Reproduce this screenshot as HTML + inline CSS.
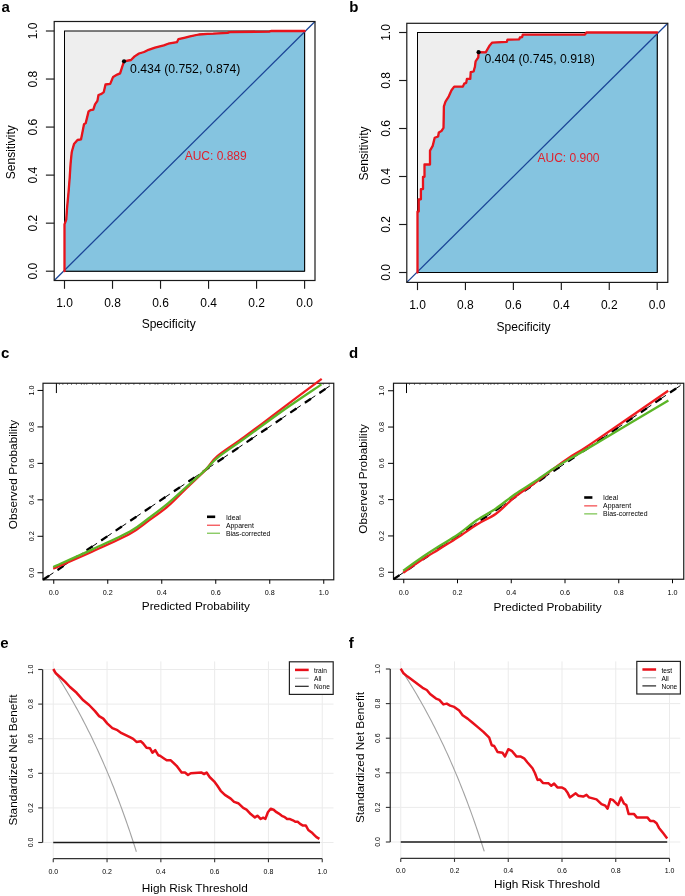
<!DOCTYPE html>
<html><head><meta charset="utf-8"><title>Figure</title>
<style>html,body{margin:0;padding:0;background:#fff;width:685px;height:896px;overflow:hidden}svg{display:block}text{font-family:"Liberation Sans",Arial,sans-serif}</style>
</head><body>
<svg width="685" height="896" viewBox="0 0 685 896">
<rect width="685" height="896" fill="#fff"/>
<rect x="64.5" y="31" width="240.1" height="240.2" fill="#eeeeee" stroke="#000" stroke-width="1"/>
<polygon points="64.5,271.2 64.5,224.4 66.25,219.7 67,208.75 68.6,191.6 69.7,177.5 70.6,163.4 71.7,152.5 72.3,150 74,144.1 77.5,140 81,139.4 82.2,133.6 84,124.2 85.7,123.1 88.6,111.4 90.4,110.2 93.3,109.6 95,104.4 97.4,100.9 98.5,95 101.5,93.9 103.8,92.1 105.5,84.5 110.2,83.9 113.1,76.9 117.2,74.6 120.1,73.4 122.5,65.8 124.05,61.3 131,60 134.6,56.4 139,53.5 144.1,52 148.5,49.8 155,47.6 163.8,45.4 168.2,43.7 176.9,42.2 178.4,39.2 184.2,37.8 190,36.4 198.8,34.5 207.6,33.8 213.2,33.7 227.7,32.9 229.3,32.1 269.4,31.6 271,31 304.6,31 304.6,271.2" fill="#85c4e0" stroke="#000" stroke-width="1"/>
<line x1="54.2" y1="280.5" x2="315" y2="21.5" stroke="#1b4597" stroke-width="1.3"/>
<polyline points="64.5,271.2 64.5,224.4 66.25,219.7 67,208.75 68.6,191.6 69.7,177.5 70.6,163.4 71.7,152.5 72.3,150 74,144.1 77.5,140 81,139.4 82.2,133.6 84,124.2 85.7,123.1 88.6,111.4 90.4,110.2 93.3,109.6 95,104.4 97.4,100.9 98.5,95 101.5,93.9 103.8,92.1 105.5,84.5 110.2,83.9 113.1,76.9 117.2,74.6 120.1,73.4 122.5,65.8 124.05,61.3 131,60 134.6,56.4 139,53.5 144.1,52 148.5,49.8 155,47.6 163.8,45.4 168.2,43.7 176.9,42.2 178.4,39.2 184.2,37.8 190,36.4 198.8,34.5 207.6,33.8 213.2,33.7 227.7,32.9 229.3,32.1 269.4,31.6 271,31 304.6,31" fill="none" stroke="#e8131b" stroke-width="2.3" stroke-linejoin="round" stroke-linecap="round"/>
<circle cx="124.05" cy="61.3" r="2.1" fill="#000"/>
<text x="130.1" y="73" font-size="12.25" text-anchor="start" fill="#000">0.434 (0.752, 0.874)</text>
<text x="184.7" y="159.7" font-size="12" text-anchor="start" fill="#e0202c">AUC: 0.889</text>
<rect x="54.2" y="21.5" width="260.8" height="259" fill="none" stroke="#1a1a1a" stroke-width="1.2"/>
<line x1="45.9" y1="271.2" x2="54.2" y2="271.2" stroke="#1a1a1a" stroke-width="1.15"/>
<text transform="translate(36.6,271.2) rotate(-90)" font-size="12" text-anchor="middle" fill="#000">0.0</text>
<line x1="304.6" y1="280.5" x2="304.6" y2="288.8" stroke="#1a1a1a" stroke-width="1.15"/>
<text x="304.6" y="307.1" font-size="12" text-anchor="middle" fill="#000">0.0</text>
<line x1="45.9" y1="223.16" x2="54.2" y2="223.16" stroke="#1a1a1a" stroke-width="1.15"/>
<text transform="translate(36.6,223.16) rotate(-90)" font-size="12" text-anchor="middle" fill="#000">0.2</text>
<line x1="256.58" y1="280.5" x2="256.58" y2="288.8" stroke="#1a1a1a" stroke-width="1.15"/>
<text x="256.58" y="307.1" font-size="12" text-anchor="middle" fill="#000">0.2</text>
<line x1="45.9" y1="175.12" x2="54.2" y2="175.12" stroke="#1a1a1a" stroke-width="1.15"/>
<text transform="translate(36.6,175.12) rotate(-90)" font-size="12" text-anchor="middle" fill="#000">0.4</text>
<line x1="208.56" y1="280.5" x2="208.56" y2="288.8" stroke="#1a1a1a" stroke-width="1.15"/>
<text x="208.56" y="307.1" font-size="12" text-anchor="middle" fill="#000">0.4</text>
<line x1="45.9" y1="127.08" x2="54.2" y2="127.08" stroke="#1a1a1a" stroke-width="1.15"/>
<text transform="translate(36.6,127.08) rotate(-90)" font-size="12" text-anchor="middle" fill="#000">0.6</text>
<line x1="160.54" y1="280.5" x2="160.54" y2="288.8" stroke="#1a1a1a" stroke-width="1.15"/>
<text x="160.54" y="307.1" font-size="12" text-anchor="middle" fill="#000">0.6</text>
<line x1="45.9" y1="79.04" x2="54.2" y2="79.04" stroke="#1a1a1a" stroke-width="1.15"/>
<text transform="translate(36.6,79.04) rotate(-90)" font-size="12" text-anchor="middle" fill="#000">0.8</text>
<line x1="112.52" y1="280.5" x2="112.52" y2="288.8" stroke="#1a1a1a" stroke-width="1.15"/>
<text x="112.52" y="307.1" font-size="12" text-anchor="middle" fill="#000">0.8</text>
<line x1="45.9" y1="31" x2="54.2" y2="31" stroke="#1a1a1a" stroke-width="1.15"/>
<text transform="translate(36.6,31) rotate(-90)" font-size="12" text-anchor="middle" fill="#000">1.0</text>
<line x1="64.5" y1="280.5" x2="64.5" y2="288.8" stroke="#1a1a1a" stroke-width="1.15"/>
<text x="64.5" y="307.1" font-size="12" text-anchor="middle" fill="#000">1.0</text>
<text x="168.7" y="328.2" font-size="12" text-anchor="middle" fill="#000">Specificity</text>
<text transform="translate(15,152.2) rotate(-90)" font-size="12" text-anchor="middle" fill="#000">Sensitivity</text>
<text x="1.5" y="11.9" font-size="15" text-anchor="start" fill="#000" font-weight="bold">a</text>
<rect x="417.5" y="32.5" width="239.7" height="240" fill="#eeeeee" stroke="#000" stroke-width="1"/>
<polygon points="417.5,272.5 417.5,211.6 418.7,211.6 418.7,199.3 420.9,199.3 420.9,189.1 423,189.1 423,176.8 424.5,176.8 424.5,164.5 430,164.5 430,150.6 432.7,145.9 434.7,137.8 438.1,136.5 438.8,132.5 441.4,131.1 443.5,127.8 443.9,106.3 445.5,101.6 448.8,96.3 451.5,90.3 454.2,86.6 462.9,86.6 464.2,83.6 466.2,82.9 466.9,78.9 470.3,78.9 470.7,72.2 473.6,71.5 474.9,66.8 475.6,61.4 478.3,57.4 478.6,52.2 485.7,52.3 489.7,45.4 492.2,42.6 506.8,41.9 507.5,39.7 519.2,39.4 519.9,37.5 522.1,37.1 522.8,34.6 584.9,34.6 586.4,32.5 657.2,32.5 657.2,272.5" fill="#85c4e0" stroke="#000" stroke-width="1"/>
<line x1="406.8" y1="282.4" x2="667.8" y2="23.3" stroke="#1b4597" stroke-width="1.3"/>
<polyline points="417.5,272.5 417.5,211.6 418.7,211.6 418.7,199.3 420.9,199.3 420.9,189.1 423,189.1 423,176.8 424.5,176.8 424.5,164.5 430,164.5 430,150.6 432.7,145.9 434.7,137.8 438.1,136.5 438.8,132.5 441.4,131.1 443.5,127.8 443.9,106.3 445.5,101.6 448.8,96.3 451.5,90.3 454.2,86.6 462.9,86.6 464.2,83.6 466.2,82.9 466.9,78.9 470.3,78.9 470.7,72.2 473.6,71.5 474.9,66.8 475.6,61.4 478.3,57.4 478.6,52.2 485.7,52.3 489.7,45.4 492.2,42.6 506.8,41.9 507.5,39.7 519.2,39.4 519.9,37.5 522.1,37.1 522.8,34.6 584.9,34.6 586.4,32.5 657.2,32.5" fill="none" stroke="#e8131b" stroke-width="2.3" stroke-linejoin="round" stroke-linecap="round"/>
<circle cx="478.6" cy="52.2" r="2.1" fill="#000"/>
<text x="484.4" y="63.4" font-size="12.25" text-anchor="start" fill="#000">0.404 (0.745, 0.918)</text>
<text x="537.5" y="162" font-size="12" text-anchor="start" fill="#e0202c">AUC: 0.900</text>
<rect x="406.8" y="23.3" width="261" height="259.1" fill="none" stroke="#1a1a1a" stroke-width="1.2"/>
<line x1="399.1" y1="272.5" x2="406.8" y2="272.5" stroke="#1a1a1a" stroke-width="1.15"/>
<text transform="translate(389.6,272.5) rotate(-90)" font-size="12" text-anchor="middle" fill="#000">0.0</text>
<line x1="657.2" y1="282.4" x2="657.2" y2="290.1" stroke="#1a1a1a" stroke-width="1.15"/>
<text x="657.2" y="308.5" font-size="12" text-anchor="middle" fill="#000">0.0</text>
<line x1="399.1" y1="224.5" x2="406.8" y2="224.5" stroke="#1a1a1a" stroke-width="1.15"/>
<text transform="translate(389.6,224.5) rotate(-90)" font-size="12" text-anchor="middle" fill="#000">0.2</text>
<line x1="609.26" y1="282.4" x2="609.26" y2="290.1" stroke="#1a1a1a" stroke-width="1.15"/>
<text x="609.26" y="308.5" font-size="12" text-anchor="middle" fill="#000">0.2</text>
<line x1="399.1" y1="176.5" x2="406.8" y2="176.5" stroke="#1a1a1a" stroke-width="1.15"/>
<text transform="translate(389.6,176.5) rotate(-90)" font-size="12" text-anchor="middle" fill="#000">0.4</text>
<line x1="561.32" y1="282.4" x2="561.32" y2="290.1" stroke="#1a1a1a" stroke-width="1.15"/>
<text x="561.32" y="308.5" font-size="12" text-anchor="middle" fill="#000">0.4</text>
<line x1="399.1" y1="128.5" x2="406.8" y2="128.5" stroke="#1a1a1a" stroke-width="1.15"/>
<text transform="translate(389.6,128.5) rotate(-90)" font-size="12" text-anchor="middle" fill="#000">0.6</text>
<line x1="513.38" y1="282.4" x2="513.38" y2="290.1" stroke="#1a1a1a" stroke-width="1.15"/>
<text x="513.38" y="308.5" font-size="12" text-anchor="middle" fill="#000">0.6</text>
<line x1="399.1" y1="80.5" x2="406.8" y2="80.5" stroke="#1a1a1a" stroke-width="1.15"/>
<text transform="translate(389.6,80.5) rotate(-90)" font-size="12" text-anchor="middle" fill="#000">0.8</text>
<line x1="465.44" y1="282.4" x2="465.44" y2="290.1" stroke="#1a1a1a" stroke-width="1.15"/>
<text x="465.44" y="308.5" font-size="12" text-anchor="middle" fill="#000">0.8</text>
<line x1="399.1" y1="32.5" x2="406.8" y2="32.5" stroke="#1a1a1a" stroke-width="1.15"/>
<text transform="translate(389.6,32.5) rotate(-90)" font-size="12" text-anchor="middle" fill="#000">1.0</text>
<line x1="417.5" y1="282.4" x2="417.5" y2="290.1" stroke="#1a1a1a" stroke-width="1.15"/>
<text x="417.5" y="308.5" font-size="12" text-anchor="middle" fill="#000">1.0</text>
<text x="523.6" y="330.5" font-size="12" text-anchor="middle" fill="#000">Specificity</text>
<text transform="translate(368,153.5) rotate(-90)" font-size="12" text-anchor="middle" fill="#000">Sensitivity</text>
<text x="349.2" y="11.8" font-size="15" text-anchor="start" fill="#000" font-weight="bold">b</text>
<rect x="43" y="383.25" width="290.75" height="196.55" fill="none" stroke="#1a1a1a" stroke-width="1.2"/>
<line x1="59.4" y1="383.25" x2="59.4" y2="384.75" stroke="#222" stroke-width="0.7"/>
<line x1="62.85" y1="383.25" x2="62.85" y2="384.75" stroke="#222" stroke-width="0.7"/>
<line x1="67.53" y1="383.25" x2="67.53" y2="384.75" stroke="#222" stroke-width="0.7"/>
<line x1="71.51" y1="383.25" x2="71.51" y2="384.75" stroke="#222" stroke-width="0.7"/>
<line x1="76.42" y1="383.25" x2="76.42" y2="384.75" stroke="#222" stroke-width="0.7"/>
<line x1="81.43" y1="383.25" x2="81.43" y2="384.75" stroke="#222" stroke-width="0.7"/>
<line x1="84.19" y1="383.25" x2="84.19" y2="384.75" stroke="#222" stroke-width="0.7"/>
<line x1="86.74" y1="383.25" x2="86.74" y2="384.75" stroke="#222" stroke-width="0.7"/>
<line x1="92.59" y1="383.25" x2="92.59" y2="384.75" stroke="#222" stroke-width="0.7"/>
<line x1="96.13" y1="383.25" x2="96.13" y2="384.75" stroke="#222" stroke-width="0.7"/>
<line x1="99.57" y1="383.25" x2="99.57" y2="384.75" stroke="#222" stroke-width="0.7"/>
<line x1="106.05" y1="383.25" x2="106.05" y2="384.75" stroke="#222" stroke-width="0.7"/>
<line x1="110.43" y1="383.25" x2="110.43" y2="384.75" stroke="#222" stroke-width="0.7"/>
<line x1="116.28" y1="383.25" x2="116.28" y2="384.75" stroke="#222" stroke-width="0.7"/>
<line x1="120.68" y1="383.25" x2="120.68" y2="384.75" stroke="#222" stroke-width="0.7"/>
<line x1="125.74" y1="383.25" x2="125.74" y2="384.75" stroke="#222" stroke-width="0.7"/>
<line x1="128.84" y1="383.25" x2="128.84" y2="384.75" stroke="#222" stroke-width="0.7"/>
<line x1="133.88" y1="383.25" x2="133.88" y2="384.75" stroke="#222" stroke-width="0.7"/>
<line x1="139.85" y1="383.25" x2="139.85" y2="384.75" stroke="#222" stroke-width="0.7"/>
<line x1="144.44" y1="383.25" x2="144.44" y2="384.75" stroke="#222" stroke-width="0.7"/>
<line x1="149.91" y1="383.25" x2="149.91" y2="384.75" stroke="#222" stroke-width="0.7"/>
<line x1="155.1" y1="383.25" x2="155.1" y2="384.75" stroke="#222" stroke-width="0.7"/>
<line x1="157.85" y1="383.25" x2="157.85" y2="384.75" stroke="#222" stroke-width="0.7"/>
<line x1="163.38" y1="383.25" x2="163.38" y2="384.75" stroke="#222" stroke-width="0.7"/>
<line x1="168.25" y1="383.25" x2="168.25" y2="384.75" stroke="#222" stroke-width="0.7"/>
<line x1="171.95" y1="383.25" x2="171.95" y2="384.75" stroke="#222" stroke-width="0.7"/>
<line x1="174.58" y1="383.25" x2="174.58" y2="384.75" stroke="#222" stroke-width="0.7"/>
<line x1="180.54" y1="383.25" x2="180.54" y2="384.75" stroke="#222" stroke-width="0.7"/>
<line x1="184.93" y1="383.25" x2="184.93" y2="384.75" stroke="#222" stroke-width="0.7"/>
<line x1="190.31" y1="383.25" x2="190.31" y2="384.75" stroke="#222" stroke-width="0.7"/>
<line x1="196.32" y1="383.25" x2="196.32" y2="384.75" stroke="#222" stroke-width="0.7"/>
<line x1="201.68" y1="383.25" x2="201.68" y2="384.75" stroke="#222" stroke-width="0.7"/>
<line x1="207.86" y1="383.25" x2="207.86" y2="384.75" stroke="#222" stroke-width="0.7"/>
<line x1="211.94" y1="383.25" x2="211.94" y2="384.75" stroke="#222" stroke-width="0.7"/>
<line x1="217.65" y1="383.25" x2="217.65" y2="384.75" stroke="#222" stroke-width="0.7"/>
<line x1="221.92" y1="383.25" x2="221.92" y2="384.75" stroke="#222" stroke-width="0.7"/>
<line x1="228.17" y1="383.25" x2="228.17" y2="384.75" stroke="#222" stroke-width="0.7"/>
<line x1="234.18" y1="383.25" x2="234.18" y2="384.75" stroke="#222" stroke-width="0.7"/>
<line x1="237.07" y1="383.25" x2="237.07" y2="384.75" stroke="#222" stroke-width="0.7"/>
<line x1="240.12" y1="383.25" x2="240.12" y2="384.75" stroke="#222" stroke-width="0.7"/>
<line x1="243.48" y1="383.25" x2="243.48" y2="384.75" stroke="#222" stroke-width="0.7"/>
<line x1="249.85" y1="383.25" x2="249.85" y2="384.75" stroke="#222" stroke-width="0.7"/>
<line x1="254.09" y1="383.25" x2="254.09" y2="384.75" stroke="#222" stroke-width="0.7"/>
<line x1="259.1" y1="383.25" x2="259.1" y2="384.75" stroke="#222" stroke-width="0.7"/>
<line x1="262.8" y1="383.25" x2="262.8" y2="384.75" stroke="#222" stroke-width="0.7"/>
<line x1="267.33" y1="383.25" x2="267.33" y2="384.75" stroke="#222" stroke-width="0.7"/>
<line x1="271.37" y1="383.25" x2="271.37" y2="384.75" stroke="#222" stroke-width="0.7"/>
<line x1="275.28" y1="383.25" x2="275.28" y2="384.75" stroke="#222" stroke-width="0.7"/>
<line x1="280.12" y1="383.25" x2="280.12" y2="384.75" stroke="#222" stroke-width="0.7"/>
<line x1="284.95" y1="383.25" x2="284.95" y2="384.75" stroke="#222" stroke-width="0.7"/>
<line x1="291.07" y1="383.25" x2="291.07" y2="384.75" stroke="#222" stroke-width="0.7"/>
<line x1="296.3" y1="383.25" x2="296.3" y2="384.75" stroke="#222" stroke-width="0.7"/>
<line x1="302.51" y1="383.25" x2="302.51" y2="384.75" stroke="#222" stroke-width="0.7"/>
<line x1="308.44" y1="383.25" x2="308.44" y2="384.75" stroke="#222" stroke-width="0.7"/>
<line x1="314.9" y1="383.25" x2="314.9" y2="384.75" stroke="#222" stroke-width="0.7"/>
<line x1="320.09" y1="383.25" x2="320.09" y2="384.75" stroke="#222" stroke-width="0.7"/>
<line x1="323.24" y1="383.25" x2="323.24" y2="384.75" stroke="#222" stroke-width="0.7"/>
<line x1="329.18" y1="383.25" x2="329.18" y2="384.75" stroke="#222" stroke-width="0.7"/>
<line x1="56.4" y1="383.25" x2="56.4" y2="393.05" stroke="#000" stroke-width="1"/>
<line x1="43" y1="579.8" x2="333.75" y2="383.3" stroke="#000" stroke-width="2.3" stroke-dasharray="7.3 10.26" stroke-dashoffset="0"/>
<line x1="43" y1="579.8" x2="333.75" y2="383.3" stroke="#000" stroke-width="1" stroke-dasharray="12.6 4.96" stroke-dashoffset="0"/>
<path d="M53.2,568.7 C59.67,565.87 79.2,557.52 92,551.7 C104.8,545.88 120.5,539.02 130,533.8 C139.5,528.58 142.67,525 149,520.4 C155.33,515.8 161.67,511.67 168,506.2 C174.33,500.73 180.67,493.73 187,487.6 C193.33,481.47 200.93,474.63 206,469.4 C211.07,464.17 211.07,461.57 217.4,456.2 C223.73,450.83 233.23,445.13 244,437.2 C254.77,429.27 269.05,418.33 282,408.6 C294.95,398.87 315.08,383.77 321.7,378.8" fill="none" stroke="#f01c20" stroke-width="2.3"/>
<path d="M53.2,567 C59.67,564.1 79.2,555.5 92,549.6 C104.8,543.7 120.5,536.87 130,531.6 C139.5,526.33 142.67,522.7 149,518 C155.33,513.3 161.67,508.67 168,503.4 C174.33,498.13 180.67,492.08 187,486.4 C193.33,480.72 200.93,474.07 206,469.3 C211.07,464.53 211.07,462.87 217.4,457.8 C223.73,452.73 233.23,446.67 244,438.9 C254.77,431.13 269.08,420.28 282,411.2 C294.92,402.12 314.92,388.87 321.5,384.4" fill="none" stroke="#5bb526" stroke-width="2.3"/>
<line x1="37.5" y1="572.75" x2="43" y2="572.75" stroke="#000" stroke-width="1"/>
<text transform="translate(34.3,572.75) rotate(-90)" font-size="7.2" text-anchor="middle" fill="#000">0.0</text>
<line x1="53.75" y1="579.8" x2="53.75" y2="583.8" stroke="#000" stroke-width="1"/>
<text x="53.75" y="594.9" font-size="7.2" text-anchor="middle" fill="#000">0.0</text>
<line x1="37.5" y1="536.29" x2="43" y2="536.29" stroke="#000" stroke-width="1"/>
<text transform="translate(34.3,536.29) rotate(-90)" font-size="7.2" text-anchor="middle" fill="#000">0.2</text>
<line x1="107.75" y1="579.8" x2="107.75" y2="583.8" stroke="#000" stroke-width="1"/>
<text x="107.75" y="594.9" font-size="7.2" text-anchor="middle" fill="#000">0.2</text>
<line x1="37.5" y1="499.83" x2="43" y2="499.83" stroke="#000" stroke-width="1"/>
<text transform="translate(34.3,499.83) rotate(-90)" font-size="7.2" text-anchor="middle" fill="#000">0.4</text>
<line x1="161.75" y1="579.8" x2="161.75" y2="583.8" stroke="#000" stroke-width="1"/>
<text x="161.75" y="594.9" font-size="7.2" text-anchor="middle" fill="#000">0.4</text>
<line x1="37.5" y1="463.37" x2="43" y2="463.37" stroke="#000" stroke-width="1"/>
<text transform="translate(34.3,463.37) rotate(-90)" font-size="7.2" text-anchor="middle" fill="#000">0.6</text>
<line x1="215.75" y1="579.8" x2="215.75" y2="583.8" stroke="#000" stroke-width="1"/>
<text x="215.75" y="594.9" font-size="7.2" text-anchor="middle" fill="#000">0.6</text>
<line x1="37.5" y1="426.91" x2="43" y2="426.91" stroke="#000" stroke-width="1"/>
<text transform="translate(34.3,426.91) rotate(-90)" font-size="7.2" text-anchor="middle" fill="#000">0.8</text>
<line x1="269.75" y1="579.8" x2="269.75" y2="583.8" stroke="#000" stroke-width="1"/>
<text x="269.75" y="594.9" font-size="7.2" text-anchor="middle" fill="#000">0.8</text>
<line x1="37.5" y1="390.45" x2="43" y2="390.45" stroke="#000" stroke-width="1"/>
<text transform="translate(34.3,390.45) rotate(-90)" font-size="7.2" text-anchor="middle" fill="#000">1.0</text>
<line x1="323.75" y1="579.8" x2="323.75" y2="583.8" stroke="#000" stroke-width="1"/>
<text x="323.75" y="594.9" font-size="7.2" text-anchor="middle" fill="#000">1.0</text>
<text x="195.9" y="609.9" font-size="11.8" text-anchor="middle" fill="#000">Predicted Probability</text>
<text transform="translate(17.4,474.5) rotate(-90)" font-size="11.8" text-anchor="middle" fill="#000">Observed Probability</text>
<text x="1" y="357.5" font-size="15" text-anchor="start" fill="#000" font-weight="bold">c</text>
<line x1="207" y1="516.8" x2="215.2" y2="516.8" stroke="#000" stroke-width="2.6"/>
<line x1="207" y1="525.2" x2="220" y2="525.2" stroke="#f01c20" stroke-width="1"/>
<line x1="207" y1="533.2" x2="220" y2="533.2" stroke="#5bb526" stroke-width="1"/>
<text x="225.9" y="519.5" font-size="6.9" text-anchor="start" fill="#000">Ideal</text>
<text x="225.9" y="527.5" font-size="6.9" text-anchor="start" fill="#000">Apparent</text>
<text x="225.9" y="535.5" font-size="6.9" text-anchor="start" fill="#000">Bias-corrected</text>
<rect x="393.5" y="383.25" width="290.25" height="196" fill="none" stroke="#1a1a1a" stroke-width="1.2"/>
<line x1="409.5" y1="383.25" x2="409.5" y2="384.75" stroke="#222" stroke-width="0.7"/>
<line x1="414.49" y1="383.25" x2="414.49" y2="384.75" stroke="#222" stroke-width="0.7"/>
<line x1="419.96" y1="383.25" x2="419.96" y2="384.75" stroke="#222" stroke-width="0.7"/>
<line x1="425.64" y1="383.25" x2="425.64" y2="384.75" stroke="#222" stroke-width="0.7"/>
<line x1="431.91" y1="383.25" x2="431.91" y2="384.75" stroke="#222" stroke-width="0.7"/>
<line x1="437.37" y1="383.25" x2="437.37" y2="384.75" stroke="#222" stroke-width="0.7"/>
<line x1="443.56" y1="383.25" x2="443.56" y2="384.75" stroke="#222" stroke-width="0.7"/>
<line x1="446.17" y1="383.25" x2="446.17" y2="384.75" stroke="#222" stroke-width="0.7"/>
<line x1="450.54" y1="383.25" x2="450.54" y2="384.75" stroke="#222" stroke-width="0.7"/>
<line x1="456.81" y1="383.25" x2="456.81" y2="384.75" stroke="#222" stroke-width="0.7"/>
<line x1="461.91" y1="383.25" x2="461.91" y2="384.75" stroke="#222" stroke-width="0.7"/>
<line x1="468.01" y1="383.25" x2="468.01" y2="384.75" stroke="#222" stroke-width="0.7"/>
<line x1="470.96" y1="383.25" x2="470.96" y2="384.75" stroke="#222" stroke-width="0.7"/>
<line x1="475.34" y1="383.25" x2="475.34" y2="384.75" stroke="#222" stroke-width="0.7"/>
<line x1="478.83" y1="383.25" x2="478.83" y2="384.75" stroke="#222" stroke-width="0.7"/>
<line x1="483.5" y1="383.25" x2="483.5" y2="384.75" stroke="#222" stroke-width="0.7"/>
<line x1="488.3" y1="383.25" x2="488.3" y2="384.75" stroke="#222" stroke-width="0.7"/>
<line x1="490.85" y1="383.25" x2="490.85" y2="384.75" stroke="#222" stroke-width="0.7"/>
<line x1="494.22" y1="383.25" x2="494.22" y2="384.75" stroke="#222" stroke-width="0.7"/>
<line x1="497.83" y1="383.25" x2="497.83" y2="384.75" stroke="#222" stroke-width="0.7"/>
<line x1="504" y1="383.25" x2="504" y2="384.75" stroke="#222" stroke-width="0.7"/>
<line x1="509.56" y1="383.25" x2="509.56" y2="384.75" stroke="#222" stroke-width="0.7"/>
<line x1="512.7" y1="383.25" x2="512.7" y2="384.75" stroke="#222" stroke-width="0.7"/>
<line x1="518.39" y1="383.25" x2="518.39" y2="384.75" stroke="#222" stroke-width="0.7"/>
<line x1="521.44" y1="383.25" x2="521.44" y2="384.75" stroke="#222" stroke-width="0.7"/>
<line x1="526.41" y1="383.25" x2="526.41" y2="384.75" stroke="#222" stroke-width="0.7"/>
<line x1="529.42" y1="383.25" x2="529.42" y2="384.75" stroke="#222" stroke-width="0.7"/>
<line x1="531.93" y1="383.25" x2="531.93" y2="384.75" stroke="#222" stroke-width="0.7"/>
<line x1="537.91" y1="383.25" x2="537.91" y2="384.75" stroke="#222" stroke-width="0.7"/>
<line x1="541.25" y1="383.25" x2="541.25" y2="384.75" stroke="#222" stroke-width="0.7"/>
<line x1="544.61" y1="383.25" x2="544.61" y2="384.75" stroke="#222" stroke-width="0.7"/>
<line x1="551.04" y1="383.25" x2="551.04" y2="384.75" stroke="#222" stroke-width="0.7"/>
<line x1="557.03" y1="383.25" x2="557.03" y2="384.75" stroke="#222" stroke-width="0.7"/>
<line x1="560.69" y1="383.25" x2="560.69" y2="384.75" stroke="#222" stroke-width="0.7"/>
<line x1="567.04" y1="383.25" x2="567.04" y2="384.75" stroke="#222" stroke-width="0.7"/>
<line x1="571.69" y1="383.25" x2="571.69" y2="384.75" stroke="#222" stroke-width="0.7"/>
<line x1="576.9" y1="383.25" x2="576.9" y2="384.75" stroke="#222" stroke-width="0.7"/>
<line x1="580.22" y1="383.25" x2="580.22" y2="384.75" stroke="#222" stroke-width="0.7"/>
<line x1="586.49" y1="383.25" x2="586.49" y2="384.75" stroke="#222" stroke-width="0.7"/>
<line x1="591.75" y1="383.25" x2="591.75" y2="384.75" stroke="#222" stroke-width="0.7"/>
<line x1="598.12" y1="383.25" x2="598.12" y2="384.75" stroke="#222" stroke-width="0.7"/>
<line x1="604.19" y1="383.25" x2="604.19" y2="384.75" stroke="#222" stroke-width="0.7"/>
<line x1="607.89" y1="383.25" x2="607.89" y2="384.75" stroke="#222" stroke-width="0.7"/>
<line x1="611.83" y1="383.25" x2="611.83" y2="384.75" stroke="#222" stroke-width="0.7"/>
<line x1="614.99" y1="383.25" x2="614.99" y2="384.75" stroke="#222" stroke-width="0.7"/>
<line x1="618.08" y1="383.25" x2="618.08" y2="384.75" stroke="#222" stroke-width="0.7"/>
<line x1="620.84" y1="383.25" x2="620.84" y2="384.75" stroke="#222" stroke-width="0.7"/>
<line x1="624.54" y1="383.25" x2="624.54" y2="384.75" stroke="#222" stroke-width="0.7"/>
<line x1="629.46" y1="383.25" x2="629.46" y2="384.75" stroke="#222" stroke-width="0.7"/>
<line x1="631.97" y1="383.25" x2="631.97" y2="384.75" stroke="#222" stroke-width="0.7"/>
<line x1="637.18" y1="383.25" x2="637.18" y2="384.75" stroke="#222" stroke-width="0.7"/>
<line x1="641.03" y1="383.25" x2="641.03" y2="384.75" stroke="#222" stroke-width="0.7"/>
<line x1="644.77" y1="383.25" x2="644.77" y2="384.75" stroke="#222" stroke-width="0.7"/>
<line x1="650.55" y1="383.25" x2="650.55" y2="384.75" stroke="#222" stroke-width="0.7"/>
<line x1="654.97" y1="383.25" x2="654.97" y2="384.75" stroke="#222" stroke-width="0.7"/>
<line x1="658.73" y1="383.25" x2="658.73" y2="384.75" stroke="#222" stroke-width="0.7"/>
<line x1="663.16" y1="383.25" x2="663.16" y2="384.75" stroke="#222" stroke-width="0.7"/>
<line x1="668.48" y1="383.25" x2="668.48" y2="384.75" stroke="#222" stroke-width="0.7"/>
<line x1="671.2" y1="383.25" x2="671.2" y2="384.75" stroke="#222" stroke-width="0.7"/>
<line x1="677.6" y1="383.25" x2="677.6" y2="384.75" stroke="#222" stroke-width="0.7"/>
<line x1="680.2" y1="383.25" x2="680.2" y2="384.75" stroke="#222" stroke-width="0.7"/>
<line x1="406.5" y1="383.25" x2="406.5" y2="393.05" stroke="#000" stroke-width="1"/>
<line x1="393.5" y1="579.25" x2="683.75" y2="383.3" stroke="#000" stroke-width="2.3" stroke-dasharray="7.3 10.26" stroke-dashoffset="0"/>
<line x1="393.5" y1="579.25" x2="683.75" y2="383.3" stroke="#000" stroke-width="1" stroke-dasharray="12.6 4.96" stroke-dashoffset="0"/>
<path d="M403.2,572.7 C406,570.75 414.03,564.92 420,561 C425.97,557.08 432.67,553.13 439,549.2 C445.33,545.27 451.67,541.53 458,537.4 C464.33,533.27 470.67,528.33 477,524.4 C483.33,520.47 489.67,518.38 496,513.8 C502.33,509.22 508.67,501.93 515,496.9 C521.33,491.87 527.67,488.23 534,483.6 C540.33,478.97 546.67,473.73 553,469.1 C559.33,464.47 565.5,460.13 572,455.8 C578.5,451.47 575.97,453.93 592,443.1 C608.03,432.27 655.5,399.52 668.2,390.8" fill="none" stroke="#f01c20" stroke-width="2.3"/>
<path d="M403.2,570.7 C406,568.7 414.03,562.77 420,558.7 C425.97,554.63 432.67,550.33 439,546.3 C445.33,542.27 451.67,538.88 458,534.5 C464.33,530.12 470.67,524.33 477,520 C483.33,515.67 489.67,512.8 496,508.5 C502.33,504.2 508.67,498.62 515,494.2 C521.33,489.78 527.67,486.2 534,482 C540.33,477.8 546.67,473.07 553,469 C559.33,464.93 565.5,461.43 572,457.6 C578.5,453.77 575.93,455.53 592,446 C608.07,436.47 655.67,408 668.4,400.4" fill="none" stroke="#5bb526" stroke-width="2.3"/>
<line x1="388" y1="572.25" x2="393.5" y2="572.25" stroke="#000" stroke-width="1"/>
<text transform="translate(384.3,572.25) rotate(-90)" font-size="7.2" text-anchor="middle" fill="#000">0.0</text>
<line x1="403.75" y1="579.25" x2="403.75" y2="583.25" stroke="#000" stroke-width="1"/>
<text x="403.75" y="594.9" font-size="7.2" text-anchor="middle" fill="#000">0.0</text>
<line x1="388" y1="535.95" x2="393.5" y2="535.95" stroke="#000" stroke-width="1"/>
<text transform="translate(384.3,535.95) rotate(-90)" font-size="7.2" text-anchor="middle" fill="#000">0.2</text>
<line x1="457.5" y1="579.25" x2="457.5" y2="583.25" stroke="#000" stroke-width="1"/>
<text x="457.5" y="594.9" font-size="7.2" text-anchor="middle" fill="#000">0.2</text>
<line x1="388" y1="499.65" x2="393.5" y2="499.65" stroke="#000" stroke-width="1"/>
<text transform="translate(384.3,499.65) rotate(-90)" font-size="7.2" text-anchor="middle" fill="#000">0.4</text>
<line x1="511.25" y1="579.25" x2="511.25" y2="583.25" stroke="#000" stroke-width="1"/>
<text x="511.25" y="594.9" font-size="7.2" text-anchor="middle" fill="#000">0.4</text>
<line x1="388" y1="463.35" x2="393.5" y2="463.35" stroke="#000" stroke-width="1"/>
<text transform="translate(384.3,463.35) rotate(-90)" font-size="7.2" text-anchor="middle" fill="#000">0.6</text>
<line x1="565" y1="579.25" x2="565" y2="583.25" stroke="#000" stroke-width="1"/>
<text x="565" y="594.9" font-size="7.2" text-anchor="middle" fill="#000">0.6</text>
<line x1="388" y1="427.05" x2="393.5" y2="427.05" stroke="#000" stroke-width="1"/>
<text transform="translate(384.3,427.05) rotate(-90)" font-size="7.2" text-anchor="middle" fill="#000">0.8</text>
<line x1="618.75" y1="579.25" x2="618.75" y2="583.25" stroke="#000" stroke-width="1"/>
<text x="618.75" y="594.9" font-size="7.2" text-anchor="middle" fill="#000">0.8</text>
<line x1="388" y1="390.75" x2="393.5" y2="390.75" stroke="#000" stroke-width="1"/>
<text transform="translate(384.3,390.75) rotate(-90)" font-size="7.2" text-anchor="middle" fill="#000">1.0</text>
<line x1="672.5" y1="579.25" x2="672.5" y2="583.25" stroke="#000" stroke-width="1"/>
<text x="672.5" y="594.9" font-size="7.2" text-anchor="middle" fill="#000">1.0</text>
<text x="547.5" y="610.7" font-size="11.8" text-anchor="middle" fill="#000">Predicted Probability</text>
<text transform="translate(367.4,478.9) rotate(-90)" font-size="11.8" text-anchor="middle" fill="#000">Observed Probability</text>
<text x="349" y="358" font-size="15" text-anchor="start" fill="#000" font-weight="bold">d</text>
<line x1="584.2" y1="497.5" x2="592.4" y2="497.5" stroke="#000" stroke-width="2.6"/>
<line x1="584.2" y1="505.9" x2="597.2" y2="505.9" stroke="#f01c20" stroke-width="1"/>
<line x1="584.2" y1="513.9" x2="597.2" y2="513.9" stroke="#5bb526" stroke-width="1"/>
<text x="603.1" y="500.2" font-size="6.9" text-anchor="start" fill="#000">Ideal</text>
<text x="603.1" y="508.2" font-size="6.9" text-anchor="start" fill="#000">Apparent</text>
<text x="603.1" y="516.2" font-size="6.9" text-anchor="start" fill="#000">Bias-corrected</text>
<line x1="53.25" y1="661.4" x2="53.25" y2="858.3" stroke="#ebebeb" stroke-width="1"/>
<line x1="43" y1="842.5" x2="333.5" y2="842.5" stroke="#ebebeb" stroke-width="1"/>
<line x1="107.05" y1="661.4" x2="107.05" y2="858.3" stroke="#ebebeb" stroke-width="1"/>
<line x1="43" y1="807.9" x2="333.5" y2="807.9" stroke="#ebebeb" stroke-width="1"/>
<line x1="160.85" y1="661.4" x2="160.85" y2="858.3" stroke="#ebebeb" stroke-width="1"/>
<line x1="43" y1="773.3" x2="333.5" y2="773.3" stroke="#ebebeb" stroke-width="1"/>
<line x1="214.65" y1="661.4" x2="214.65" y2="858.3" stroke="#ebebeb" stroke-width="1"/>
<line x1="43" y1="738.7" x2="333.5" y2="738.7" stroke="#ebebeb" stroke-width="1"/>
<line x1="268.45" y1="661.4" x2="268.45" y2="858.3" stroke="#ebebeb" stroke-width="1"/>
<line x1="43" y1="704.1" x2="333.5" y2="704.1" stroke="#ebebeb" stroke-width="1"/>
<line x1="322.25" y1="661.4" x2="322.25" y2="858.3" stroke="#ebebeb" stroke-width="1"/>
<line x1="43" y1="669.5" x2="333.5" y2="669.5" stroke="#ebebeb" stroke-width="1"/>
<polyline points="53.25,669.5 54.59,671.55 55.94,673.62 57.28,675.71 58.63,677.82 59.98,679.95 61.32,682.1 62.66,684.28 64.01,686.48 65.36,688.7 66.7,690.95 68.05,693.22 69.39,695.51 70.73,697.83 72.08,700.17 73.42,702.54 74.77,704.94 76.12,707.36 77.46,709.81 78.81,712.28 80.15,714.78 81.5,717.31 82.84,719.87 84.19,722.46 85.53,725.07 86.88,727.72 88.22,730.4 89.57,733.1 90.91,735.84 92.26,738.61 93.6,741.42 94.95,744.26 96.29,747.13 97.64,750.03 98.98,752.97 100.33,755.95 101.67,758.96 103.02,762.01 104.36,765.1 105.71,768.22 107.05,771.38 108.4,774.59 109.74,777.83 111.09,781.12 112.43,784.45 113.78,787.82 115.12,791.23 116.47,794.69 117.81,798.2 119.16,801.75 120.5,805.35 121.85,808.99 123.19,812.69 124.54,816.44 125.88,820.23 127.23,824.08 128.57,827.99 129.92,831.94 131.26,835.96 132.61,840.03 133.95,844.16 135.3,848.35 136.37,851.74" fill="none" stroke="#a2a2a2" stroke-width="1.1"/>
<line x1="53.25" y1="842.5" x2="320" y2="842.5" stroke="#1a1a1a" stroke-width="1.3"/>
<polyline points="53.3,669 55.8,673.3 60,677 65,681.6 70,687 76.6,692.8 83.3,700.3 89.1,705 95,711.1 99.1,716.1 103.3,718.6 107.4,723.6 112.4,728.2 117.4,730.2 121.6,733.2 129.9,737.2 133.2,738.9 136.5,741.9 140.7,741.2 143.2,743.5 146.5,747.7 149.9,748.2 152.4,752.7 155.2,750.2 158.2,755.2 160,755.8 164,758.5 166.7,760.3 170.8,760.3 176.6,765.8 181.6,772.5 185,772.5 188,775 190.8,773.3 201.6,772.6 204.1,774.1 206.6,772.5 209.6,777 214.1,781.3 217.4,785.8 220.7,790.8 224.9,794.9 230.7,798.6 234.1,801.9 238.2,803.2 243.2,807.9 246.5,809.6 250.7,814.1 254.9,817.4 257.4,815.7 260.7,819 263.2,817.7 265.4,818.9 267.9,812.2 270.7,808.8 273.6,809.7 276.5,812.2 278.9,813.6 281.8,815.8 284.2,816.8 287.1,819.1 290,819.1 292.9,820.3 295.3,821.8 297.7,821.8 300.1,823.9 303,825.6 305.9,825.6 308.3,830 311.7,832.4 314.1,834.8 316.5,837.2 319.4,838.9" fill="none" stroke="#e8101a" stroke-width="2.5" stroke-linejoin="round"/>
<line x1="42.6" y1="842.5" x2="42.6" y2="669.5" stroke="#333" stroke-width="1.3"/>
<line x1="53.25" y1="858.7" x2="322.25" y2="858.7" stroke="#333" stroke-width="1.3"/>
<line x1="38.2" y1="842.5" x2="42.6" y2="842.5" stroke="#333" stroke-width="1.1"/>
<text transform="translate(32.8,842.5) rotate(-90)" font-size="7" text-anchor="middle" fill="#000">0.0</text>
<line x1="53.25" y1="858.7" x2="53.25" y2="862.2" stroke="#333" stroke-width="1.1"/>
<text x="53.25" y="873.6" font-size="7" text-anchor="middle" fill="#000">0.0</text>
<line x1="38.2" y1="807.9" x2="42.6" y2="807.9" stroke="#333" stroke-width="1.1"/>
<text transform="translate(32.8,807.9) rotate(-90)" font-size="7" text-anchor="middle" fill="#000">0.2</text>
<line x1="107.05" y1="858.7" x2="107.05" y2="862.2" stroke="#333" stroke-width="1.1"/>
<text x="107.05" y="873.6" font-size="7" text-anchor="middle" fill="#000">0.2</text>
<line x1="38.2" y1="773.3" x2="42.6" y2="773.3" stroke="#333" stroke-width="1.1"/>
<text transform="translate(32.8,773.3) rotate(-90)" font-size="7" text-anchor="middle" fill="#000">0.4</text>
<line x1="160.85" y1="858.7" x2="160.85" y2="862.2" stroke="#333" stroke-width="1.1"/>
<text x="160.85" y="873.6" font-size="7" text-anchor="middle" fill="#000">0.4</text>
<line x1="38.2" y1="738.7" x2="42.6" y2="738.7" stroke="#333" stroke-width="1.1"/>
<text transform="translate(32.8,738.7) rotate(-90)" font-size="7" text-anchor="middle" fill="#000">0.6</text>
<line x1="214.65" y1="858.7" x2="214.65" y2="862.2" stroke="#333" stroke-width="1.1"/>
<text x="214.65" y="873.6" font-size="7" text-anchor="middle" fill="#000">0.6</text>
<line x1="38.2" y1="704.1" x2="42.6" y2="704.1" stroke="#333" stroke-width="1.1"/>
<text transform="translate(32.8,704.1) rotate(-90)" font-size="7" text-anchor="middle" fill="#000">0.8</text>
<line x1="268.45" y1="858.7" x2="268.45" y2="862.2" stroke="#333" stroke-width="1.1"/>
<text x="268.45" y="873.6" font-size="7" text-anchor="middle" fill="#000">0.8</text>
<line x1="38.2" y1="669.5" x2="42.6" y2="669.5" stroke="#333" stroke-width="1.1"/>
<text transform="translate(32.8,669.5) rotate(-90)" font-size="7" text-anchor="middle" fill="#000">1.0</text>
<line x1="322.25" y1="858.7" x2="322.25" y2="862.2" stroke="#333" stroke-width="1.1"/>
<text x="322.25" y="873.6" font-size="7" text-anchor="middle" fill="#000">1.0</text>
<text x="194.8" y="891.9" font-size="11.8" text-anchor="middle" fill="#000">High Risk Threshold</text>
<text transform="translate(16.7,760) rotate(-90)" font-size="11.8" text-anchor="middle" fill="#000">Standardized Net Benefit</text>
<text x="0.3" y="648.1" font-size="15" text-anchor="start" fill="#000" font-weight="bold">e</text>
<rect x="289.4" y="661.8" width="43.8" height="32.6" fill="#fff" stroke="#222" stroke-width="1.2"/>
<line x1="295" y1="669.9" x2="308.7" y2="669.9" stroke="#e8101a" stroke-width="2.5"/>
<line x1="295" y1="678.2" x2="308.7" y2="678.2" stroke="#aaaaaa" stroke-width="1"/>
<line x1="295" y1="686.3" x2="308.7" y2="686.3" stroke="#222" stroke-width="1.2"/>
<text x="314.1" y="672.9" font-size="6.6" text-anchor="start" fill="#000">train</text>
<text x="314.1" y="681.05" font-size="6.6" text-anchor="start" fill="#000">All</text>
<text x="314.1" y="689.2" font-size="6.6" text-anchor="start" fill="#000">None</text>
<line x1="400.75" y1="661.4" x2="400.75" y2="858.3" stroke="#ebebeb" stroke-width="1"/>
<line x1="390.25" y1="842" x2="680.3" y2="842" stroke="#ebebeb" stroke-width="1"/>
<line x1="454.5" y1="661.4" x2="454.5" y2="858.3" stroke="#ebebeb" stroke-width="1"/>
<line x1="390.25" y1="807.4" x2="680.3" y2="807.4" stroke="#ebebeb" stroke-width="1"/>
<line x1="508.25" y1="661.4" x2="508.25" y2="858.3" stroke="#ebebeb" stroke-width="1"/>
<line x1="390.25" y1="772.8" x2="680.3" y2="772.8" stroke="#ebebeb" stroke-width="1"/>
<line x1="562" y1="661.4" x2="562" y2="858.3" stroke="#ebebeb" stroke-width="1"/>
<line x1="390.25" y1="738.2" x2="680.3" y2="738.2" stroke="#ebebeb" stroke-width="1"/>
<line x1="615.75" y1="661.4" x2="615.75" y2="858.3" stroke="#ebebeb" stroke-width="1"/>
<line x1="390.25" y1="703.6" x2="680.3" y2="703.6" stroke="#ebebeb" stroke-width="1"/>
<line x1="669.5" y1="661.4" x2="669.5" y2="858.3" stroke="#ebebeb" stroke-width="1"/>
<line x1="390.25" y1="669" x2="680.3" y2="669" stroke="#ebebeb" stroke-width="1"/>
<polyline points="400.75,669 402.09,671.03 403.44,673.09 404.78,675.16 406.12,677.26 407.47,679.38 408.81,681.51 410.16,683.68 411.5,685.86 412.84,688.07 414.19,690.3 415.53,692.55 416.88,694.83 418.22,697.13 419.56,699.46 420.91,701.81 422.25,704.19 423.59,706.59 424.94,709.02 426.28,711.47 427.62,713.96 428.97,716.47 430.31,719.01 431.66,721.58 433,724.18 434.34,726.8 435.69,729.46 437.03,732.15 438.38,734.87 439.72,737.62 441.06,740.41 442.41,743.22 443.75,746.07 445.09,748.96 446.44,751.88 447.78,754.83 449.12,757.82 450.47,760.85 451.81,763.91 453.16,767.02 454.5,770.16 455.84,773.34 457.19,776.56 458.53,779.82 459.88,783.13 461.22,786.47 462.56,789.86 463.91,793.3 465.25,796.78 466.59,800.3 467.94,803.88 469.28,807.5 470.62,811.17 471.97,814.89 473.31,818.66 474.66,822.48 476,826.36 477.34,830.29 478.69,834.27 480.03,838.31 481.38,842.41 482.72,846.57 484.06,850.79 484.25,851.39" fill="none" stroke="#a2a2a2" stroke-width="1.1"/>
<line x1="400.75" y1="842" x2="667.2" y2="842" stroke="#1a1a1a" stroke-width="1.3"/>
<polyline points="400.7,668.7 403.5,673.3 407.6,676.6 412.6,680.3 417.6,684 422.6,687.8 426.8,690 430.1,694 436,698.6 439.3,699.9 443.4,704.4 446.8,703.6 450.1,705.6 454.2,706.9 459.2,710.6 462.6,715.3 467.6,718.6 472.6,722.7 477.5,726.9 483.4,731.9 489.2,737.7 491.7,745.2 494.2,746 497.5,751.9 502.5,752.7 505,756.5 508.3,749.2 511.7,750.8 516.6,756.6 520.8,756.6 524.1,758.3 527.5,762.5 532.5,768.3 535,773.3 537.5,779.9 540,779.6 542.9,782.9 548.6,783.3 551.3,785.8 554.1,783.6 557.4,787.4 561.6,787.4 564.9,789.1 567.4,792.4 569.9,797.4 575.7,793.3 578.2,795.7 583.2,796.6 586.5,794.9 589,797.4 596.5,799.4 601.5,804.1 605.3,805.7 607.6,808.6 610.3,799.3 612.8,799.9 618.1,805.1 621,797.5 623.9,803.4 626.3,805.1 628.6,813.9 633.9,813.9 636.8,817.4 647.3,817.4 650.2,820.9 653.7,820.9 656.6,823.2 659,827.9 663.1,833.1 667.2,838.4" fill="none" stroke="#e8101a" stroke-width="2.5" stroke-linejoin="round"/>
<line x1="390.25" y1="842" x2="390.25" y2="669" stroke="#333" stroke-width="1.3"/>
<line x1="400.75" y1="858.4" x2="669.5" y2="858.4" stroke="#333" stroke-width="1.3"/>
<line x1="385.85" y1="842" x2="390.25" y2="842" stroke="#333" stroke-width="1.1"/>
<text transform="translate(380,842) rotate(-90)" font-size="7" text-anchor="middle" fill="#000">0.0</text>
<line x1="400.75" y1="858.4" x2="400.75" y2="861.9" stroke="#333" stroke-width="1.1"/>
<text x="400.75" y="873.2" font-size="7" text-anchor="middle" fill="#000">0.0</text>
<line x1="385.85" y1="807.4" x2="390.25" y2="807.4" stroke="#333" stroke-width="1.1"/>
<text transform="translate(380,807.4) rotate(-90)" font-size="7" text-anchor="middle" fill="#000">0.2</text>
<line x1="454.5" y1="858.4" x2="454.5" y2="861.9" stroke="#333" stroke-width="1.1"/>
<text x="454.5" y="873.2" font-size="7" text-anchor="middle" fill="#000">0.2</text>
<line x1="385.85" y1="772.8" x2="390.25" y2="772.8" stroke="#333" stroke-width="1.1"/>
<text transform="translate(380,772.8) rotate(-90)" font-size="7" text-anchor="middle" fill="#000">0.4</text>
<line x1="508.25" y1="858.4" x2="508.25" y2="861.9" stroke="#333" stroke-width="1.1"/>
<text x="508.25" y="873.2" font-size="7" text-anchor="middle" fill="#000">0.4</text>
<line x1="385.85" y1="738.2" x2="390.25" y2="738.2" stroke="#333" stroke-width="1.1"/>
<text transform="translate(380,738.2) rotate(-90)" font-size="7" text-anchor="middle" fill="#000">0.6</text>
<line x1="562" y1="858.4" x2="562" y2="861.9" stroke="#333" stroke-width="1.1"/>
<text x="562" y="873.2" font-size="7" text-anchor="middle" fill="#000">0.6</text>
<line x1="385.85" y1="703.6" x2="390.25" y2="703.6" stroke="#333" stroke-width="1.1"/>
<text transform="translate(380,703.6) rotate(-90)" font-size="7" text-anchor="middle" fill="#000">0.8</text>
<line x1="615.75" y1="858.4" x2="615.75" y2="861.9" stroke="#333" stroke-width="1.1"/>
<text x="615.75" y="873.2" font-size="7" text-anchor="middle" fill="#000">0.8</text>
<line x1="385.85" y1="669" x2="390.25" y2="669" stroke="#333" stroke-width="1.1"/>
<text transform="translate(380,669) rotate(-90)" font-size="7" text-anchor="middle" fill="#000">1.0</text>
<line x1="669.5" y1="858.4" x2="669.5" y2="861.9" stroke="#333" stroke-width="1.1"/>
<text x="669.5" y="873.2" font-size="7" text-anchor="middle" fill="#000">1.0</text>
<text x="547" y="888.4" font-size="11.8" text-anchor="middle" fill="#000">High Risk Threshold</text>
<text transform="translate(364.1,757.5) rotate(-90)" font-size="11.8" text-anchor="middle" fill="#000">Standardized Net Benefit</text>
<text x="348.8" y="648" font-size="15" text-anchor="start" fill="#000" font-weight="bold">f</text>
<rect x="636.8" y="661.4" width="43.6" height="32.6" fill="#fff" stroke="#222" stroke-width="1.2"/>
<line x1="642.4" y1="669.5" x2="656.1" y2="669.5" stroke="#e8101a" stroke-width="2.5"/>
<line x1="642.4" y1="677.8" x2="656.1" y2="677.8" stroke="#aaaaaa" stroke-width="1"/>
<line x1="642.4" y1="685.9" x2="656.1" y2="685.9" stroke="#222" stroke-width="1.2"/>
<text x="661.5" y="672.5" font-size="6.6" text-anchor="start" fill="#000">test</text>
<text x="661.5" y="680.65" font-size="6.6" text-anchor="start" fill="#000">All</text>
<text x="661.5" y="688.8" font-size="6.6" text-anchor="start" fill="#000">None</text>
</svg>
</body></html>
